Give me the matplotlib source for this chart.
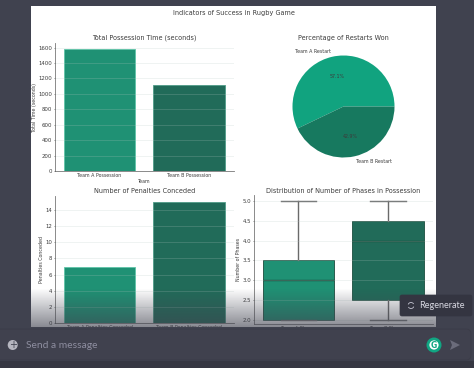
"""
Rugby game indicators, shown in a chat window screenshot
"""
import numpy as np

from matplotlib import pyplot as plt
from matplotlib.patches import Arc, Circle, FancyBboxPatch, Polygon, Rectangle

W = 474
H = 368

POSSESSION_LABELS = ["Team A Possession", "Team B Possession"]
POSSESSION_TIME = [1580, 1120]

RESTART_LABELS = ["Team A Restart", "Team B Restart"]
RESTART_SHARE = [57.1, 42.9]

PENALTY_LABELS = ["Team A Penalties Conceded", "Team B Penalties Conceded"]
PENALTIES = [7, 15]

PHASE_LABELS = ["Team A Phases", "Team B Phases"]
PHASE_WHISLO = [2.0, 2.0]
PHASE_Q1 = [2.0, 2.5]
PHASE_MED = [3.0, 4.0]
PHASE_Q3 = [3.5, 4.5]
PHASE_WHISHI = [5.0, 5.0]

GREEN_A = "#1f9174"
GREEN_B = "#216b59"
PIE_A = "#11a37f"
PIE_B = "#17795f"
TEXT = "#3c3c3c"
DARK = "#40424f"
TITLE_SIZE = 4.7
SMALL_SIZE = 3.4
YTICK_SIZE = 3.9


def px_axes(fig, left, top, right, bottom, **kwargs):
    """
    Adds axes from a box given in image pixels
    """
    return fig.add_axes([left/W, 1-bottom/H, (right-left)/W, (bottom-top)/H], **kwargs)


def style_axes(ax, title, ylabel, title_pad):
    ax.set_title(title, size=TITLE_SIZE, color=TEXT, pad=title_pad)
    ax.set_ylabel(ylabel, size=SMALL_SIZE, color=TEXT, labelpad=0.8)
    ax.tick_params(labelsize=YTICK_SIZE, length=1, width=0.4, colors=TEXT, pad=1)
    ax.tick_params(axis="x", labelsize=SMALL_SIZE, length=0, pad=1.2)
    # Grid sits over the bars, it shows as faint bands on them
    ax.grid(axis="y", color="#b8c8c4", linewidth=0.6, alpha=0.25)
    ax.set_axisbelow(False)
    for side in ["top", "right"]:
        ax.spines[side].set_visible(False)
    for side in ["left", "bottom"]:
        ax.spines[side].set_linewidth(0.6)
        ax.spines[side].set_color("#777777")


def plot_bars(ax, labels, values, title, ylabel, title_pad):
    ax.bar(labels, values, width=0.8, color=[GREEN_A, GREEN_B],
           edgecolor=["#5fc4a8", "#4f9c88"], linewidth=0.6)
    ax.set_xlim(-0.5, 1.5)
    style_axes(ax, title, ylabel, title_pad)


def plot_backdrop(fig):
    bg = fig.add_axes([0, 0, 1, 1], zorder=-1)
    bg.set_xlim(0, W)
    bg.set_ylim(H, 0)
    bg.axis("off")
    bg.add_patch(Rectangle((31, 6), 405, 321, color="white", linewidth=0))
    bg.text(234, 12.5, "Indicators of Success in Rugby Game", size=TITLE_SIZE, color=TEXT,
            ha="center", va="center")


def plot_overlay(fig):
    top = fig.add_axes([0, 0, 1, 1], zorder=5)
    top.set_xlim(0, W)
    top.set_ylim(H, 0)
    top.axis("off")
    top.patch.set_alpha(0)

    # Fade at the bottom of the chat scroll area
    fade = np.zeros((64, 2, 4))
    fade[:, :, :3] = np.array([64, 66, 79])/255
    fade[:, :, 3] = np.linspace(0, 0.62, 64)[:, None]
    top.imshow(fade, extent=(31, 436, 327, 288), aspect="auto", interpolation="bilinear")
    top.set_xlim(0, W)
    top.set_ylim(H, 0)

    # Message box
    top.add_patch(Rectangle((0, 327), W, 41, color=DARK, linewidth=0))
    top.add_patch(FancyBboxPatch((-10, 329), 481, 31, boxstyle="round,pad=0,rounding_size=5",
                                 facecolor="#40414e", edgecolor="#3a3b47", linewidth=0.5))
    top.add_patch(Rectangle((0, 361), W, 7, color="#363742", linewidth=0))
    top.add_patch(Circle((12.7, 345), 5, color="#b6b6c0", linewidth=0))
    top.text(12.7, 344.8, "+", size=7, color=DARK, ha="center", va="center")
    top.text(26, 345, "Send a message", size=7.4, color="#8e8ea0", ha="left", va="center",
             family="Lato")

    # Regenerate button
    top.add_patch(FancyBboxPatch((400, 295), 72, 21, boxstyle="round,pad=0,rounding_size=2",
                                 facecolor="#343541", edgecolor="#343541", linewidth=0.5))
    top.add_patch(Arc((411, 305.5), 6, 6, theta1=20, theta2=150, edgecolor="#c5c5d2",
                      linewidth=0.6))
    top.add_patch(Arc((411, 305.5), 6, 6, theta1=200, theta2=330, edgecolor="#c5c5d2",
                      linewidth=0.6))
    top.text(419.5, 305.5, "Regenerate", size=6.5, color="#d8d8e2", ha="left", va="center",
             family="Lato")

    # Grammarly badge and send arrow
    top.add_patch(Circle((434, 345), 7.5, color="#11a683", linewidth=0))
    top.add_patch(Circle((434, 345), 4.6, color="white", linewidth=0))
    top.text(434, 345, "G", size=5.5, color="#11a683", ha="center", va="center", weight="bold")
    top.add_patch(Polygon([[450, 340], [460, 345], [450, 350], [452, 345]], color="#6b6c7b",
                          linewidth=0))


fig = plt.figure(figsize=(W/100, H/100), dpi=100, facecolor=DARK)
plot_backdrop(fig)

ax1 = px_axes(fig, 54.7, 43, 234, 171)
plot_bars(ax1, POSSESSION_LABELS, POSSESSION_TIME, "Total Possession Time (seconds)",
          "Total Time (seconds)", 2.5)
ax1.set_ylim(0, 1659)
ax1.set_xlabel("Team", size=SMALL_SIZE, color=TEXT, labelpad=1)

ax2 = px_axes(fig, 285, 48, 402, 165)
ax2.pie(RESTART_SHARE, labels=RESTART_LABELS, colors=[PIE_A, PIE_B], autopct="%1.1f%%",
        radius=1, labeldistance=1.1, textprops={"size": SMALL_SIZE, "color": TEXT})
ax2.set_title("Percentage of Restarts Won", size=TITLE_SIZE, color=TEXT, pad=5.5)
ax2.set_xlim(-1.147, 1.147)
ax2.set_ylim(-1.147, 1.147)

ax3 = px_axes(fig, 54.7, 195.5, 234, 323.3)
plot_bars(ax3, PENALTY_LABELS, PENALTIES, "Number of Penalties Conceded", "Penalties Conceded", 1.5)
ax3.set_ylim(0, 15.75)
ax3.set_yticks(range(0, 16, 2))

ax4 = px_axes(fig, 253.7, 195, 432.5, 324)
stats = []
for i in range(len(PHASE_LABELS)):
    stats.append({"label": PHASE_LABELS[i], "whislo": PHASE_WHISLO[i], "q1": PHASE_Q1[i],
                  "med": PHASE_MED[i], "q3": PHASE_Q3[i], "whishi": PHASE_WHISHI[i],
                  "fliers": []})
boxes = ax4.bxp(stats, positions=[0, 1], widths=0.8, patch_artist=True, showfliers=False,
                boxprops={"edgecolor": "#2a5c4d", "linewidth": 0.7},
                medianprops={"color": "#174d3d", "linewidth": 1.0},
                whiskerprops={"color": "#6a6a6a", "linewidth": 1.0},
                capprops={"color": "#6a6a6a", "linewidth": 1.0}, capwidths=0.4)
for box, color in zip(boxes["boxes"], [GREEN_A, GREEN_B]):
    box.set_facecolor(color)
ax4.set_xlim(-0.5, 1.5)
ax4.set_ylim(1.89, 5.15)
style_axes(ax4, "Distribution of Number of Phases in Possession", "Number of Phases", 1.5)

plot_overlay(fig)
fig.savefig("out.png", dpi=100, facecolor=fig.get_facecolor())
